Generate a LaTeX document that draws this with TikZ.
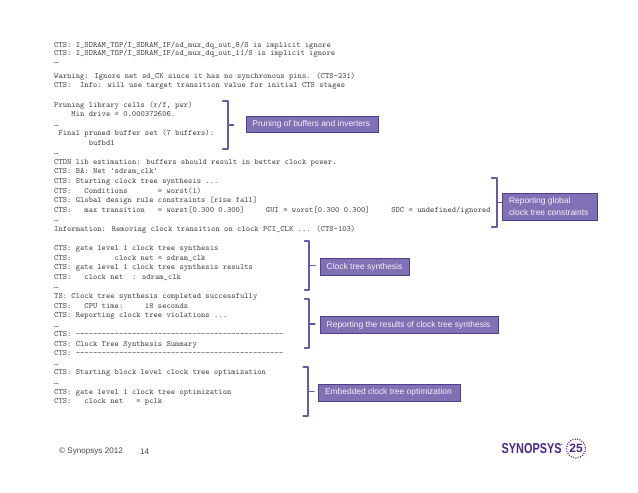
\documentclass[tikz,border=0pt]{standalone}
\usepackage{fontspec}
\setsansfont{Liberation Sans}
\definecolor{logtext}{HTML}{484848}
\definecolor{boxfill}{HTML}{8070B4}
\definecolor{boxline}{HTML}{4F3F8C}
\definecolor{bracketc}{HTML}{6A58A6}
\definecolor{logoc}{HTML}{4A2390}
\tikzset{
  logline/.style={anchor=west,inner sep=0pt,text=logtext,font=\ttfamily\fontsize{8.14}{9}\selectfont,text height=5pt,text depth=1.5pt},
  callout/.style={draw=boxline,line width=0.9pt,fill=boxfill,anchor=north west,inner sep=0pt},
  callouttext/.style={anchor=west,inner sep=0pt,text=white!92!boxfill,font=\sffamily\fontsize{8.45}{12}\selectfont,align=left},
  bracketline/.style={draw=bracketc,line width=1.8pt,line cap=round,line join=round},
  foot/.style={anchor=west,inner sep=0pt,text=black!72,font=\sffamily\fontsize{8.1}{11}\selectfont}
}
\newcommand{\logl}[3]{\node[logline] (#1) at (54,#2) {#3};}
\newcommand{\bracketmark}[6]{% name, left, spine, tip, top, bottom
  \coordinate (#1top) at (#2,#5);
  \coordinate (#1bot) at (#2,#6);
  \coordinate (#1mid) at (#3,{(#5+#6)/2});
  \draw[bracketline] (#1top) -- (#3,#5) -- (#3,#6) -- (#1bot);
  \draw[bracketline] (#1mid) -- ++(#4-#3,0);
}
\newcommand{\callbox}[6]{% name, x0, y0, x1, y1, text
  \node[callout,minimum width={(#4-#2)*1pt},minimum height={(#5-#3)*1pt}] (#1) at (#2,#3) {};
  \node[callouttext] (#1t) at ([xshift=6.5pt]#1.west) {#6};
}
\begin{document}
\begin{tikzpicture}[x=1pt,y=-1pt]
\useasboundingbox (0,0) rectangle (638,493);
\fill[white] (0,0) rectangle (638,493);
\logl{l1}{45.7}{CTS: I\_SDRAM\_TOP/I\_SDRAM\_IF/sd\_mux\_dq\_out\_8/S is implicit ignore}
\logl{l2}{53.4}{CTS: I\_SDRAM\_TOP/I\_SDRAM\_IF/sd\_mux\_dq\_out\_11/S is implicit ignore}
\logl{l3}{61.5}{…}
\logl{l4}{76.7}{Warning: Ignore net sd\_CK since it has no synchronous pins. (CTS-231)}
\logl{l5}{86}{CTS:~~Info: will use target transition value for initial CTS stages}
\logl{l6}{105.7}{Pruning library cells (r/f, pwr)}
\logl{l7}{115}{~~~~Min drive = 0.000372606.}
\logl{l8}{124.5}{…}
\logl{l9}{134}{~Final pruned buffer set (7 buffers):}
\logl{l10}{143.3}{~~~~~~~~bufbd1}
\logl{l11}{153}{…}
\logl{l12}{162.7}{CTDN lib estimation: buffers should result in better clock power.}
\logl{l13}{172}{CTS: BA: Net 'sdram\_clk'}
\logl{l14}{181.7}{CTS: Starting clock tree synthesis ...}
\logl{l15}{191.5}{CTS:~~~Conditions~~~~~~~= worst(1)}
\logl{l16}{201}{CTS: Global design rule constraints [rise fall]}
\logl{l17}{210.7}{CTS:~~~max transition~~~= worst[0.300 0.300]~~~~~GUI = worst[0.300 0.300]~~~~~SDC = undefined/ignored}
\logl{l18}{220}{…}
\logl{l19}{230}{Information: Removing clock transition on clock PCI\_CLK ... (CTS-103)}
\logl{l20}{249}{CTS: gate level 1 clock tree synthesis}
\logl{l21}{258.7}{CTS:~~~~~~~~~~clock net = sdram\_clk}
\logl{l22}{268}{CTS: gate level 1 clock tree synthesis results}
\logl{l23}{277.5}{CTS:~~~clock net~~: sdram\_clk}
\logl{l24}{287}{…}
\logl{l25}{296.7}{TS: Clock tree synthesis completed successfully}
\logl{l26}{306.3}{CTS:~~~CPU time:~~~~~18 seconds}
\logl{l27}{316}{CTS: Reporting clock tree violations ...}
\logl{l28}{325.5}{…}
\logl{l29}{334.7}{CTS: {-}{-}{-}{-}{-}{-}{-}{-}{-}{-}{-}{-}{-}{-}{-}{-}{-}{-}{-}{-}{-}{-}{-}{-}{-}{-}{-}{-}{-}{-}{-}{-}{-}{-}{-}{-}{-}{-}{-}{-}{-}{-}{-}{-}{-}{-}{-}{-}}
\logl{l30}{344.5}{CTS: Clock Tree Synthesis Summary}
\logl{l31}{354}{CTS: {-}{-}{-}{-}{-}{-}{-}{-}{-}{-}{-}{-}{-}{-}{-}{-}{-}{-}{-}{-}{-}{-}{-}{-}{-}{-}{-}{-}{-}{-}{-}{-}{-}{-}{-}{-}{-}{-}{-}{-}{-}{-}{-}{-}{-}{-}{-}{-}}
\logl{l32}{363.5}{…}
\logl{l33}{373}{CTS: Starting block level clock tree optimization}
\logl{l34}{382.5}{…}
\logl{l35}{392.3}{CTS: gate level 1 clock tree optimization}
\logl{l36}{401.7}{CTS:~~~clock net~~~= pclk}

\bracketmark{b1}{222.7}{228.3}{233.5}{100.7}{149}
\bracketmark{b2}{491.7}{496.7}{502}{178}{227}
\bracketmark{b3}{304.7}{309.3}{315}{241}{290}
\bracketmark{b4}{304.7}{309.3}{315}{299.3}{348.3}
\bracketmark{b5}{303.3}{308}{314}{367}{416}

\callbox{c1}{245.7}{115.7}{378}{132}{Pruning of buffers and inverters}
\callbox{c2}{502.3}{192.7}{597.3}{220}{Reporting global\\clock tree constraints}
\callbox{c3}{320}{258}{409}{275.3}{Clock tree synthesis}
\callbox{c4}{320}{316}{498.3}{333}{Reporting the results of clock tree synthesis}
\callbox{c5}{318.3}{384}{460}{400.7}{Embedded clock tree optimization}

\node[foot] (copy) at (59,451.7) {© Synopsys 2012};
\node[foot] (page) at (140,451.7) {14};

\node[anchor=west,inner sep=0pt,text=logoc,font=\sffamily\bfseries\fontsize{12.5}{13}\selectfont] (logo) at (501.5,449) {\scalebox{0.87}[1.15]{SYNOPSYS}};
\node[anchor=west,inner sep=0pt,text=logoc,font=\sffamily\fontsize{3}{3}\selectfont] (reg) at (561,444) {®};
\node[inner sep=0pt,text=logoc,font=\sffamily\bfseries\fontsize{12}{12}\selectfont] (num) at (576,448.5) {25};
\draw[logoc,line width=1.2pt,dash pattern=on 1pt off 1.4pt] (num.center) circle[radius=9.5];
\end{tikzpicture}
\end{document}
